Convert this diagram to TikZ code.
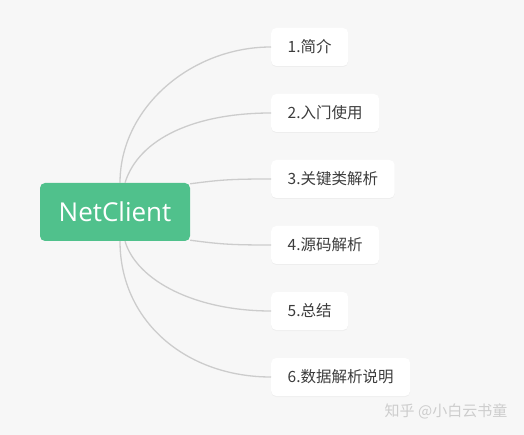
\documentclass[tikz,border=0pt]{standalone}
\usepackage{fontspec}
\setmainfont{Open Sans}
\newfontfamily\cjk{Noto Sans CJK SC}
\usetikzlibrary{shadows}
\definecolor{rootgreen}{RGB}{80,193,140}
\definecolor{linegray}{RGB}{204,204,204}
\definecolor{bggray}{RGB}{247,247,247}
\definecolor{textgray}{RGB}{60,60,60}
\definecolor{markgray}{RGB}{205,205,205}

\begin{document}
\begin{tikzpicture}[x=1pt,y=-1pt,
    rootbox/.style={fill=rootgreen, rounded corners=5pt, text=white,
        minimum width=150pt, minimum height=58pt,
        font=\fontsize{26}{30}\selectfont},
    topicbox/.style={fill=white, rounded corners=5pt, anchor=west,
        minimum height=38pt, inner xsep=16.5pt, text=textgray,
        font=\cjk\fontsize{15.5}{18}\selectfont,
        drop shadow={opacity=0.07, shadow xshift=0pt, shadow yshift=-1pt}},
    branch/.style={draw=linegray, line width=1.3pt}]

        %background
        \fill[bggray] (0,0) rectangle (524,435);
        \useasboundingbox (0,0) rectangle (524,435);

        %root
        \node[rootbox] (root) at (115,212) {NetClient};

        %topics
        \node[topicbox] (t1) at (271,47) {1.简介};
        \node[topicbox] (t2) at (271,113) {2.入门使用};
        \node[topicbox] (t3) at (271,179) {3.关键类解析};
        \node[topicbox] (t4) at (271,245) {4.源码解析};
        \node[topicbox] (t5) at (271,311) {5.总结};
        \node[topicbox] (t6) at (271,377) {6.数据解析说明};

        %branches
        \draw[branch] ([xshift=5pt]root.north) .. controls +(0,-75) and +(-80,0) .. (t1.west);
        \draw[branch] ([xshift=10pt]root.north) .. controls +(14,-45) and +(-75,0) .. (t2.west);
        \draw[branch] ([yshift=-1pt]root.north east) .. controls +(30,-4) and +(-40,0) .. (t3.west);
        \draw[branch] ([yshift=1pt]root.south east) .. controls +(30,4) and +(-40,0) .. (t4.west);
        \draw[branch] ([xshift=10pt]root.south) .. controls +(12,40) and +(-75,0) .. (t5.west);
        \draw[branch] ([xshift=5pt]root.south) .. controls +(0,80) and +(-85,0) .. (t6.west);

        %watermark
        \node[text=markgray, font=\cjk\fontsize{15}{18}\selectfont] (mark) at (446,411) {知乎 @小白云书童};
\end{tikzpicture}
\end{document}
